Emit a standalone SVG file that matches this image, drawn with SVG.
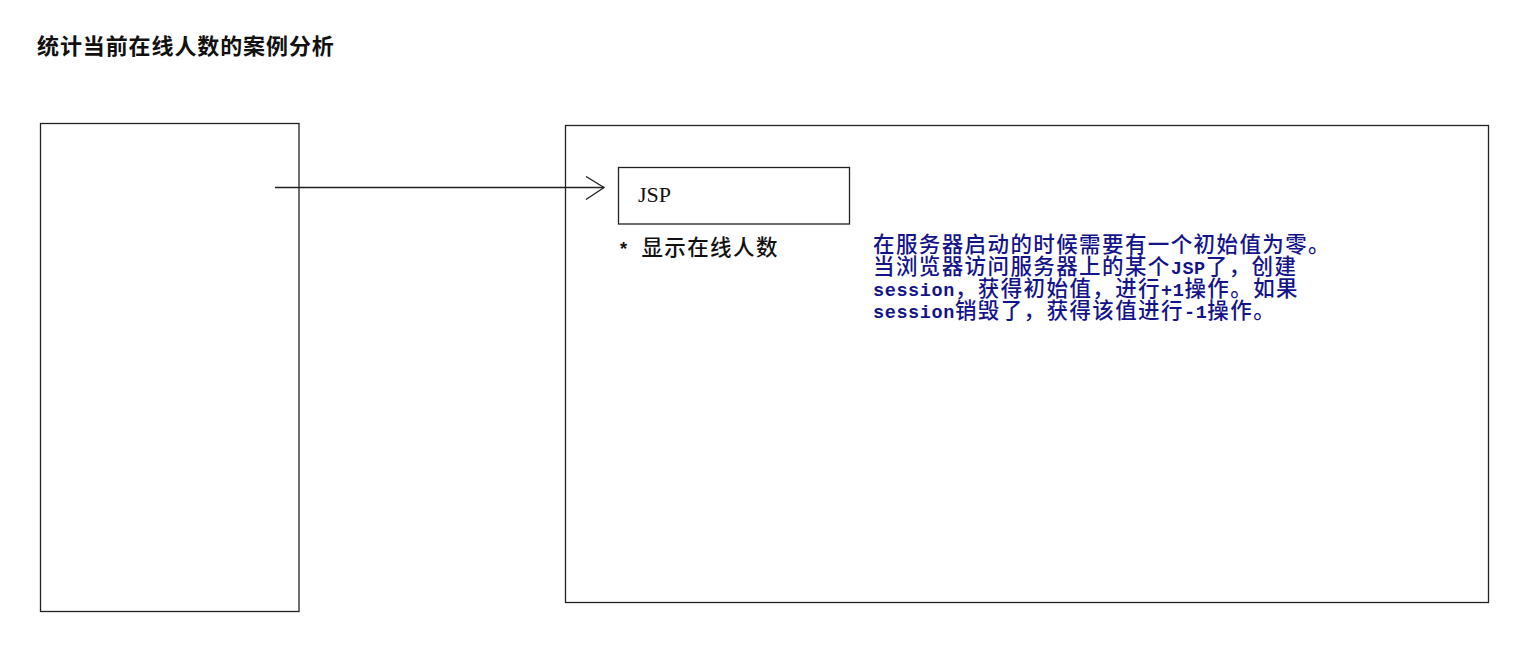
<svg xmlns="http://www.w3.org/2000/svg" width="1525" height="645" viewBox="0 0 1525 645">
<style>
.box{fill:none;stroke:#222;stroke-width:1.3}
.t{font-family:"Noto Sans CJK SC",sans-serif;font-size:21.5px;letter-spacing:1.4px;font-weight:500}
.m{font-family:"Liberation Mono",monospace;font-size:18.5px;font-weight:bold;letter-spacing:0.6px}
.title{font-family:"Noto Sans CJK SC",sans-serif;font-size:22px;letter-spacing:0.9px;font-weight:bold;fill:#111}
.blue{fill:#14148a}
.blk{fill:#111}
</style>
<defs>
<marker id="open" markerWidth="22" markerHeight="28" refX="20" refY="12" orient="auto" markerUnits="userSpaceOnUse">
<path d="M2,1 L20,12 L2,24" fill="none" stroke="#222" stroke-width="1.3"/>
</marker>
</defs>
<rect width="1525" height="645" fill="#fff"/>
<text class="title" x="37" y="54">统计当前在线人数的案例分析</text>
<g id="client"><rect class="box" x="40.5" y="123.5" width="258.5" height="488"/></g>
<g id="server"><rect class="box" x="565.5" y="125.5" width="923" height="477"/></g>
<g id="jsp">
<rect class="box" x="618.5" y="167.5" width="231" height="56.5"/>
<text x="638" y="202" style="font-family:'Liberation Serif',serif;font-size:22px;fill:#111">JSP</text>
</g>
<g id="jsp-note"><text class="t blk" x="618" y="255"><tspan class="m">* </tspan>显示在线人数</text></g>
<g id="description" class="t blue">
<text x="873" y="252">在服务器启动的时候需要有一个初始值为零。</text>
<text x="873" y="274">当浏览器访问服务器上的某个<tspan class="m">JSP</tspan>了，创建</text>
<text x="873" y="296"><tspan class="m">session</tspan>，获得初始值，进行<tspan class="m">+1</tspan>操作。如果</text>
<text x="873" y="318"><tspan class="m">session</tspan>销毁了，获得该值进行<tspan class="m">-1</tspan>操作。</text>
</g>
<g id="connectors">
<line x1="275" y1="187.5" x2="604" y2="187.5" stroke="#222" stroke-width="1.3" marker-end="url(#open)"/>
</g>
</svg>
